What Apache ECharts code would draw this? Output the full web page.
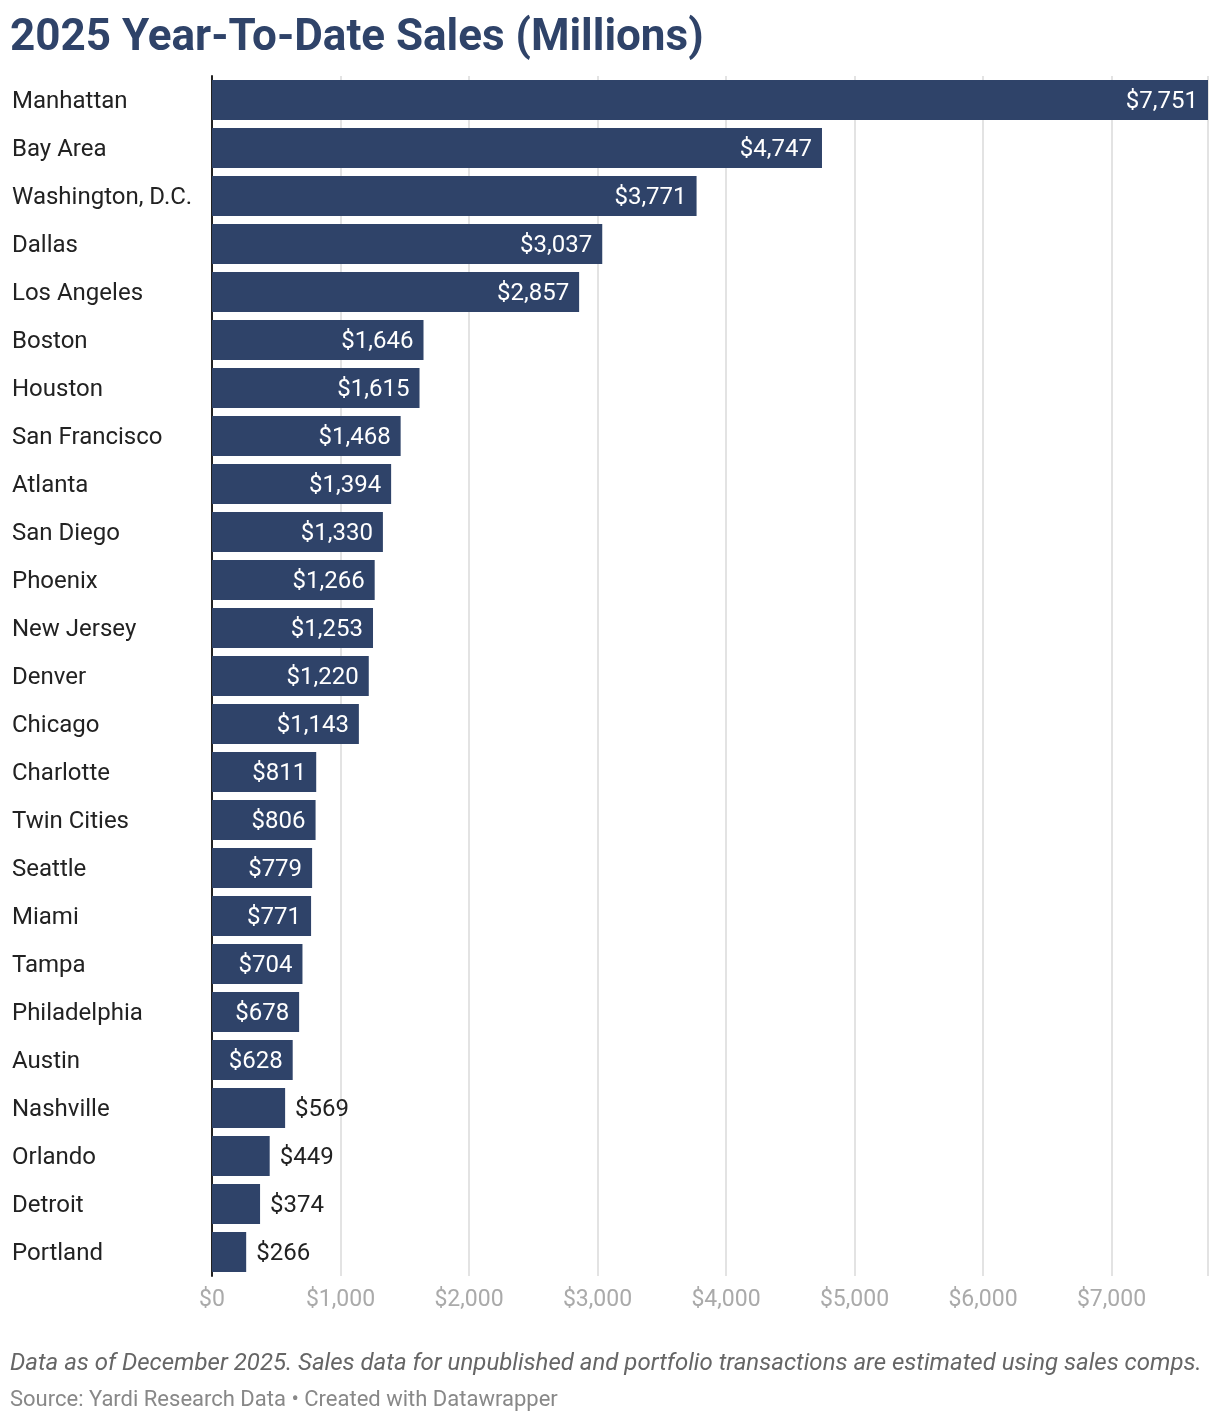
<!DOCTYPE html>
<html>
<head>
<meta charset="utf-8">
<script src="https://cdn.jsdelivr.net/npm/echarts@6/dist/echarts.min.js"></script>
<style>
  html, body { margin: 0; padding: 0; background: #fff; }
  #chart { width: 1220px; height: 1422px; }
</style>
</head>
<body>
<div id="chart"></div>
<script>
// data, top to bottom as in the picture
const cities = [
  'Manhattan', 'Bay Area', 'Washington, D.C.', 'Dallas', 'Los Angeles',
  'Boston', 'Houston', 'San Francisco', 'Atlanta', 'San Diego',
  'Phoenix', 'New Jersey', 'Denver', 'Chicago', 'Charlotte',
  'Twin Cities', 'Seattle', 'Miami', 'Tampa', 'Philadelphia',
  'Austin', 'Nashville', 'Orlando', 'Detroit', 'Portland'
];
const sales = [
  7751, 4747, 3771, 3037, 2857,
  1646, 1615, 1468, 1394, 1330,
  1266, 1253, 1220, 1143, 811,
  806, 779, 771, 704, 678,
  628, 569, 449, 374, 266
];
const xTicks = [0, 1000, 2000, 3000, 4000, 5000, 6000, 7000];

const BAR = '#2f4369';
const fmt = v => '$' + v.toLocaleString('en-US');

const chart = echarts.init(document.getElementById('chart'));

const seriesData = sales.map(v => {
  const inside = v >= 600;
  return {
    value: v,
    label: inside
      ? { position: 'insideRight', color: '#fff', distance: 10 }
      : { position: 'right', color: '#222', distance: 10 }
  };
});

chart.setOption({
  animation: false,
  textStyle: { fontFamily: 'Roboto' },
  title: [
    {
      text: '2025 Year-To-Date Sales (Millions)',
      left: 5, top: 12,
      textStyle: { fontSize: 44, fontWeight: 'bold', color: BAR, fontFamily: 'Roboto' }
    },
    {
      text: 'Data as of December 2025. Sales data for unpublished and portfolio transactions are estimated using sales comps.',
      left: 5, top: 1347,
      textStyle: { fontSize: 24, fontStyle: 'italic', fontWeight: 'normal', color: '#666', fontFamily: 'Roboto' }
    },
    {
      text: 'Source: Yardi Research Data • Created with Datawrapper',
      left: 5, top: 1384,
      textStyle: { fontSize: 22, fontWeight: 'normal', color: '#888', fontFamily: 'Roboto' }
    }
  ],
  grid: { left: 212, right: 12, top: 76, height: 1200 },
  xAxis: {
    type: 'value',
    min: 0,
    max: 7751,
    interval: 1000,
    axisLine: { show: false },
    axisTick: { show: false },
    splitLine: { show: true, lineStyle: { color: '#e3e3e3', width: 2 } },
    axisLabel: {
      color: '#aaa', fontSize: 23, margin: 13,
      formatter: v => xTicks.includes(v) ? fmt(v) : '',
      showMaxLabel: false
    }
  },
  yAxis: {
    type: 'category',
    data: cities,
    inverse: true,
    axisTick: { show: false },
    axisLine: { show: true, lineStyle: { color: '#222', width: 2 } },
    axisLabel: {
      align: 'left', margin: 200,
      formatter: v => '{c|' + v + '}',
      rich: {
        c: { color: '#222', fontSize: 24, fontFamily: 'Roboto', padding: [4, 0, 0, 0] }
      }
    }
  },
  series: [{
    type: 'bar',
    data: seriesData,
    barCategoryGap: '16.7%',
    itemStyle: { color: BAR },
    label: {
      show: true,
      fontSize: 24,
      offset: [0, 2],
      formatter: p => fmt(p.value)
    }
  }]
});
</script>
</body>
</html>
